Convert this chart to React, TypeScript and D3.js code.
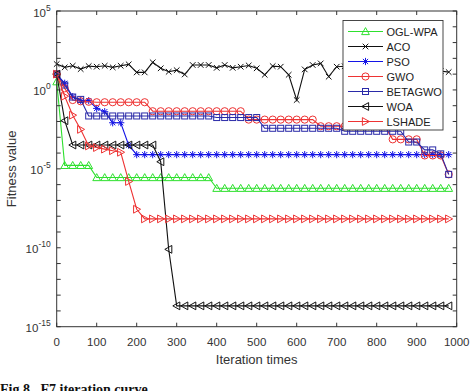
import React from 'react';
import * as d3 from 'd3';

// iterations where markers sit (every 20th iteration)
const iters = d3.range(0, 1000, 20);

// log10(fitness), one entry per marker
const oglWpa = [0.52, -4.78, -4.78, -4.78, -4.78,
  -5.55, -5.55, -5.55, -5.55, -5.55, -5.55, -5.55, -5.55, -5.55, -5.55, -5.55, -5.55, -5.55, -5.55, -5.55,
  -6.23, -6.23, -6.23, -6.23, -6.23, -6.23, -6.23, -6.23, -6.23, -6.23, -6.23, -6.23, -6.23, -6.23, -6.23,
  -6.23, -6.23, -6.23, -6.23, -6.23, -6.23, -6.23, -6.23, -6.23, -6.23, -6.23, -6.23, -6.23, -6.23, -6.23];
const aco = [1.64, 1.43, 1.53, 1.32, 1.51, 1.47, 1.53, 1.43, 1.53, 1.62, 1.11, 1.11, 1.75, 1.37, 1.15, 1.25,
  0.98, 1.58, 1.58, 1.58, 1.40, 1.58, 1.40, 1.47, 1.55, 1.37, 0.96, 1.51, 1.47, 0.96, -0.64, 1.30, 1.58, 1.68,
  0.84, 1.47, 1.5, 1.4, 1.55, 1.3, 1.5, 1.45, 1.6, 1.35, 1.5, 1.4, 1.55, 1.3, 1.2, 1.13];
const pso = [1.0, 0.42, -0.43, -0.68, -0.68, -1.17, -1.38, -2.08, -2.08, -3.5,
  -4.1, -4.1, -4.1, -4.1, -4.1, -4.1, -4.1, -4.1, -4.1, -4.1, -4.1, -4.1, -4.1, -4.1, -4.1, -4.1, -4.1, -4.1, -4.1, -4.1,
  -4.1, -4.1, -4.1, -4.1, -4.1, -4.1, -4.1, -4.1, -4.1, -4.1, -4.1, -4.1, -4.1, -4.1, -4.1, -4.1, -4.1, -4.1, -4.1, -4.1];
const gwo = [1.0, 0.1, -0.64, -0.72, -0.75, -0.78, -0.78, -0.78, -0.78, -0.78, -0.78, -0.78,
  -1.35, -1.35, -1.35, -1.35, -1.35, -1.35, -1.35, -1.35, -1.35, -1.35, -1.35, -1.35,
  -1.88, -1.88, -1.88, -1.88, -1.88, -1.88, -1.88, -1.88, -1.88,
  -2.3, -2.3, -2.3, -2.3, -2.3, -2.3, -2.3, -2.3, -2.3,
  -3.13, -3.13, -3.13, -3.13, -4.15, -4.15, -4.15, -5.35];
const betaGwo = [1.0, 0.31, -0.45, -0.6,
  -1.65, -1.65, -1.65, -1.65, -1.65, -1.65, -1.65, -1.65, -1.65, -1.65, -1.65, -1.65, -1.65, -1.65, -1.65, -1.65,
  -1.75, -1.75, -1.75, -1.75, -1.75, -1.75,
  -2.43, -2.43, -2.43, -2.43, -2.43, -2.43, -2.43, -2.43, -2.43, -2.43,
  -2.62, -2.62, -2.62, -2.62, -2.62, -2.62, -2.62, -2.62,
  -3.3, -3.3, -3.8, -3.8, -4.05, -5.35];
const woa = [1.0, -1.95, -3.49, -3.49, -3.49, -3.49, -3.49, -3.49, -3.49, -3.49, -3.49, -3.49, -3.49, -4.55, -10.1,
  -13.68, -13.68, -13.68, -13.68, -13.68, -13.68, -13.68, -13.68, -13.68, -13.68, -13.68, -13.68,
  -13.68, -13.68, -13.68, -13.68, -13.68, -13.68, -13.68, -13.68, -13.68, -13.68, -13.68, -13.68,
  -13.68, -13.68, -13.68, -13.68, -13.68, -13.68, -13.68, -13.68, -13.68, -13.68, -13.68];
const lshade = [1.0, -0.4, -1.6, -2.5, -3.55, -3.65, -3.75, -3.85, -3.95, -5.8, -7.56,
  -8.17, -8.17, -8.17, -8.17, -8.17, -8.17, -8.17, -8.17, -8.17, -8.17, -8.17, -8.17, -8.17,
  -8.17, -8.17, -8.17, -8.17, -8.17, -8.17, -8.17, -8.17, -8.17, -8.17, -8.17, -8.17, -8.17,
  -8.17, -8.17, -8.17, -8.17, -8.17, -8.17, -8.17, -8.17, -8.17, -8.17, -8.17, -8.17, -8.17];

const seriesNames = ['OGL-WPA', 'ACO', 'PSO', 'GWO', 'BETAGWO', 'WOA', 'LSHADE'];
const seriesData = [oglWpa, aco, pso, gwo, betaGwo, woa, lshade];
const seriesColors = ['#2ee02e', '#111111', '#1414e6', '#ee3333', '#2a2aa8', '#111111', '#ee3333'];
const seriesMarkers = ['triUp', 'cross', 'star', 'circle', 'square', 'triLeft', 'triRight'];

const xTicks = [0, 100, 200, 300, 400, 500, 600, 700, 800, 900, 1000];
const yLabelExps = [5, 0, -5, -10, -15];

const W = 474, H = 391;
const margin = { top: 11, right: 17.3, bottom: 64.3, left: 56.7 };
const axisColor = '#333';
const font = 'Liberation Sans, Arial, sans-serif';

function Marker({ type, x, y, color }: { type: string; x: number; y: number; color: string }) {
  const p = { fill: 'none', stroke: color, strokeWidth: 1 };
  const s = 3.9;
  switch (type) {
    case 'triUp':
      return <path d={`M${x},${y - s}L${x + s},${y + s * 0.8}L${x - s},${y + s * 0.8}Z`} {...p} />;
    case 'triLeft':
      return <path d={`M${x - s},${y}L${x + s * 0.8},${y - s}L${x + s * 0.8},${y + s}Z`} {...p} />;
    case 'triRight':
      return <path d={`M${x + s},${y}L${x - s * 0.8},${y - s}L${x - s * 0.8},${y + s}Z`} {...p} />;
    case 'circle':
      return <circle cx={x} cy={y} r={3.6} {...p} />;
    case 'square':
      return <rect x={x - 3} y={y - 3} width={6} height={6} {...p} />;
    case 'cross':
      return <path d={`M${x - 2.8},${y - 2.8}L${x + 2.8},${y + 2.8}M${x - 2.8},${y + 2.8}L${x + 2.8},${y - 2.8}`} {...p} />;
    case 'star':
      return (
        <path
          d={`M${x - 3.6},${y}L${x + 3.6},${y}M${x},${y - 3.6}L${x},${y + 3.6}M${x - 2.6},${y - 2.6}L${x + 2.6},${y + 2.6}M${x - 2.6},${y + 2.6}L${x + 2.6},${y - 2.6}`}
          {...p}
        />
      );
    default:
      return null;
  }
}

export default function App() {
  const x0 = margin.left, x1 = W - margin.right;
  const y0 = margin.top, y1 = H - margin.bottom;

  const x = d3.scaleLinear().domain([0, 1000]).range([x0, x1]);
  const y = d3.scaleLog().domain([1e-15, 1e5]).range([y1, y0]);

  const line = d3.line<number>()
    .x((_, i) => x(iters[i]))
    .y(d => y(Math.pow(10, d)));

  const decades = d3.range(-15, 6);

  const legX = 343, legY = 20.5, legW = 100, legH = 109.5, legStep = 15;

  return (
    <svg width={W} height={H} style={{ position: 'absolute', left: 0, top: 0, background: '#fff' }}>
      <rect x={0} y={0} width={W} height={H} fill="#fff" />

      {/* series */}
      {seriesData.map((d, k) => (
        <g key={seriesNames[k]}>
          <path d={line(d) || ''} fill="none" stroke={seriesColors[k]} strokeWidth={1.1} />
          {d.map((v, i) => (
            <Marker key={i} type={seriesMarkers[k]} x={x(iters[i])} y={y(Math.pow(10, v))} color={seriesColors[k]} />
          ))}
        </g>
      ))}

      {/* frame and ticks */}
      <rect x={x0} y={y0} width={x1 - x0} height={y1 - y0} fill="none" stroke={axisColor} strokeWidth={1} />
      {xTicks.map(t => (
        <g key={t}>
          <line x1={x(t)} x2={x(t)} y1={y1} y2={y1 - 4} stroke={axisColor} />
          <line x1={x(t)} x2={x(t)} y1={y0} y2={y0 + 4} stroke={axisColor} />
          <text x={x(t)} y={y1 + 19.5} textAnchor="middle" fontFamily={font} fontSize={11.5} fill="#333">{t}</text>
        </g>
      ))}
      {decades.map(e => (
        <g key={e}>
          <line x1={x0} x2={x0 + 4} y1={y(Math.pow(10, e))} y2={y(Math.pow(10, e))} stroke={axisColor} />
          <line x1={x1} x2={x1 - 4} y1={y(Math.pow(10, e))} y2={y(Math.pow(10, e))} stroke={axisColor} />
        </g>
      ))}
      {yLabelExps.map(e => (
        <text key={e} x={x0 - 6} y={y(Math.pow(10, e)) + 5.5} textAnchor="end" fontFamily={font} fontSize={11.5} fill="#333">
          10<tspan dy={-6} fontSize={8.5}>{e}</tspan>
        </text>
      ))}

      {/* axis titles */}
      <text x={(x0 + x1) / 2} y={363.5} textAnchor="middle" fontFamily={font} fontSize={13} fill="#333">Iteration times</text>
      <text transform={`translate(15.5,${(y0 + y1) / 2}) rotate(-90)`} textAnchor="middle" fontFamily={font} fontSize={13} fill="#333">Fitness value</text>

      {/* legend */}
      <rect x={legX} y={legY} width={legW} height={legH} fill="#fff" stroke={axisColor} strokeWidth={0.9} />
      {seriesNames.map((n, k) => {
        const ly = legY + 11 + k * legStep;
        return (
          <g key={n}>
            <line x1={legX + 5} x2={legX + 40} y1={ly} y2={ly} stroke={seriesColors[k]} strokeWidth={1.1} />
            <Marker type={seriesMarkers[k]} x={legX + 22.5} y={ly} color={seriesColors[k]} />
            <text x={legX + 43.5} y={ly + 4} fontFamily={font} fontSize={11} fill="#222">{n}</text>
          </g>
        );
      })}

      {/* caption, cut by the lower edge as in the source */}
      <text x={0} y={394} fontFamily="Liberation Serif, Times New Roman, serif" fontWeight="bold" fontSize={14} fill="#111" style={{ whiteSpace: 'pre' }}>
        {'Fig 8.  F7 iteration curve'}
      </text>
    </svg>
  );
}
